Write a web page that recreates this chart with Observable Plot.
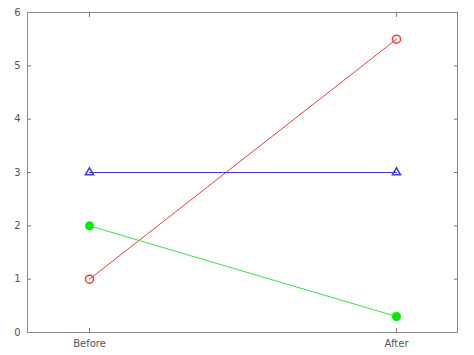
<!DOCTYPE html>
<html>
<head>
<meta charset="utf-8">
<script src="https://cdn.jsdelivr.net/npm/d3@7"></script>
<script src="https://cdn.jsdelivr.net/npm/@observablehq/plot@0.6"></script>
<style>
  html, body { margin: 0; padding: 0; background: #fff; }
</style>
</head>
<body>
<div id="chart"></div>
<script>
const categories = ["Before", "After"];
const redValues = [1, 5.5];
const blueValues = [3, 3];
const greenValues = [2, 0.3];
const yTicks = [0, 1, 2, 3, 4, 5, 6];

const toRows = (vals) => categories.map((c, i) => ({cat: c, v: vals[i]}));
const red = toRows(redValues);
const blue = toRows(blueValues);
const green = toRows(greenValues);

const chart = Plot.plot({
  width: 474,
  height: 355,
  marginLeft: 27,
  marginRight: 17,
  marginTop: 12,
  marginBottom: 23,
  style: {fontFamily: "DejaVu Sans, sans-serif", fontSize: "10px", color: "#555", background: "#fff"},
  x: {type: "point", domain: categories, padding: 0.2},
  y: {domain: [0, 6]},
  marks: [
    Plot.axisY({ticks: yTicks, tickSize: 0, tickPadding: 7, label: null, tickFormat: d => String(d)}),
    Plot.axisY({ticks: yTicks, tickSize: -4, text: null, label: null, stroke: "#777"}),
    Plot.axisY({anchor: "right", ticks: yTicks, tickSize: -4, text: null, label: null, stroke: "#777"}),
    Plot.axisX({tickSize: 0, tickPadding: 7, label: null}),
    Plot.axisX({tickSize: -4, text: null, label: null, stroke: "#777"}),
    Plot.axisX({anchor: "top", tickSize: -4, text: null, label: null, stroke: "#777"}),
    Plot.frame({stroke: "#888"}),
    Plot.line(red, {x: "cat", y: "v", stroke: "#f03a3a", strokeWidth: 1}),
    Plot.dot(red, {x: "cat", y: "v", stroke: "#f03a3a", fill: "none", r: 4, symbol: "circle"}),
    Plot.line(blue, {x: "cat", y: "v", stroke: "#3a3ae0", strokeWidth: 1}),
    Plot.dot(blue, {x: "cat", y: "v", stroke: "#3a3ae0", fill: "none", r: 3, symbol: "triangle"}),
    Plot.line(green, {x: "cat", y: "v", stroke: "#40e040", strokeWidth: 1}),
    Plot.dot(green, {x: "cat", y: "v", fill: "#00ee00", stroke: "none", r: 4.5, symbol: "circle"})
  ]
});
document.getElementById("chart").appendChild(chart);
</script>
</body>
</html>
